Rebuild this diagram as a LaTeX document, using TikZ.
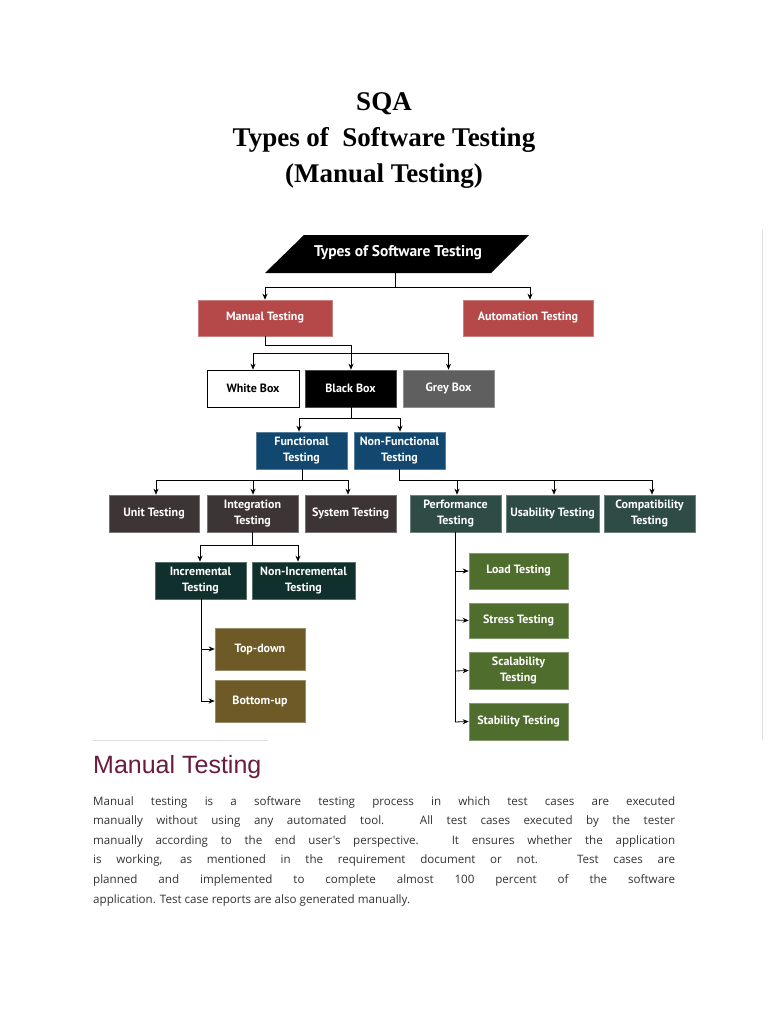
\documentclass[tikz,border=0pt]{standalone}
\usepackage{fontspec}
\setmainfont{Liberation Serif}
\newfontfamily\boxfont{PT Sans}
\newfontfamily\bodyfont{Open Sans}
\usetikzlibrary{arrows.meta,shapes.geometric}
\definecolor{cred}{HTML}{B5494A}
\definecolor{cgrey}{HTML}{5F5F5F}
\definecolor{cblue}{HTML}{12486F}
\definecolor{cbrown}{HTML}{3D3435}
\definecolor{cteal}{HTML}{2E4B45}
\definecolor{cdark}{HTML}{0F302C}
\definecolor{colive}{HTML}{6E5A26}
\definecolor{cgreen}{HTML}{4F6E2E}
\definecolor{cmaroon}{HTML}{6A1B40}
\tikzset{
 bx/.style={rectangle,inner sep=1pt,align=center,text=white,font=\boxfont\bfseries\fontsize{12}{15.5}\selectfont,draw=#1!70!white,fill=#1,line width=0.6pt},
 arr/.style={-{Stealth[length=6pt,width=5pt]},line width=0.8pt},
 ln/.style={line width=0.8pt}
}
\newcommand{\mybox}[7]{\node[bx=#6,minimum width={#4-#2},minimum height={#5-#3}] (#1) at ({(#2+#4)/2},{(#3+#5)/2}) {#7};}
\begin{document}
\begin{tikzpicture}[x=1pt,y=-1pt]
\useasboundingbox (0,0) rectangle (768,1024);
\fill[white] (0,0) rectangle (768,1024);
\node[font=\fontsize{27}{36}\selectfont\bfseries,align=center] (title) at (384,141) {SQA\\Types of\ \ Software Testing\\(Manual Testing)};
% top parallelogram
\fill (304,235) -- (529,235) -- (491,273) -- (265,273) -- cycle;
\node[text=white,font=\boxfont\bfseries\fontsize{15.5}{17}\selectfont] (top) at (398,253) {Types of Software Testing};
\coordinate (topb) at (395,273);
\mybox{man}{198}{300}{332}{336}{cred}{Manual Testing}
\mybox{aut}{463}{300}{593}{336}{cred}{Automation Testing}
\node[bx=white,draw=black,text=black,minimum width=92,minimum height=37] (wb) at (253,388.5) {White Box};
\mybox{bb}{305}{370}{396}{407}{black}{Black Box}
\mybox{gb}{403}{370}{494}{407}{cgrey}{Grey Box}
\mybox{fun}{256}{432}{347}{469}{cblue}{Functional\\Testing}
\mybox{nfun}{354}{432}{445}{469}{cblue}{Non-Functional\\Testing}
\mybox{unit}{109}{495}{199}{532}{cbrown}{Unit Testing}
\mybox{integ}{207}{495}{298}{532}{cbrown}{Integration\\Testing}
\mybox{sys}{305}{495}{396}{532}{cbrown}{System Testing}
\mybox{perf}{410}{495}{501}{532}{cteal}{Performance\\Testing}
\mybox{usa}{506}{495}{599}{532}{cteal}{Usability Testing}
\mybox{comp}{604}{495}{695}{532}{cteal}{Compatibility\\Testing}
\mybox{inc}{155}{562}{246}{599}{cdark}{Incremental\\Testing}
\mybox{ninc}{252}{562}{355}{599}{cdark}{Non-Incremental\\Testing}
\mybox{td}{215}{628}{305}{670}{colive}{Top-down}
\mybox{bu}{215}{680}{305}{722}{colive}{Bottom-up}
\mybox{load}{469}{553}{568}{589}{cgreen}{Load Testing}
\mybox{stress}{469}{603}{568}{638}{cgreen}{Stress Testing}
\mybox{scal}{469}{652}{568}{689}{cgreen}{Scalability\\Testing}
\mybox{stab}{469}{703}{568}{740}{cgreen}{Stability Testing}
% connectors
\draw[ln] (topb) -- (395,287);
\draw[arr] (395,287) -| (man.north -| 265,0);
\draw[arr] (395,287) -| (aut.north -| 530,0);
\draw[ln] (man.south -| 265,0) |- (351,345) -- (351,353);
\draw[arr] (351,353) -| (wb.north);
\draw[arr] (351,353) -- (bb.north -| 351,0);
\draw[arr] (351,353) -| (gb.north);
\draw[ln] (bb.south -| 351,0) -- (351,418);
\draw[arr] (351,418) -| (fun.north -| 299,0);
\draw[arr] (351,418) -| (nfun.north -| 400,0);
\draw[ln] (fun.south -| 302,0) -- (302,480);
\draw[arr] (302,480) -| (unit.north -| 156,0);
\draw[arr] (302,480) -| (integ.north -| 253,0);
\draw[arr] (302,480) -| (sys.north -| 348,0);
\draw[ln] (nfun.south -| 399,0) -- (399,480);
\draw[arr] (399,480) -| (perf.north -| 457,0);
\draw[arr] (399,480) -| (usa.north -| 554,0);
\draw[arr] (399,480) -| (comp.north -| 652,0);
\draw[ln] (integ.south -| 252,0) -- (252,545);
\draw[arr] (252,545) -| (inc.north -| 200,0);
\draw[arr] (252,545) -| (ninc.north -| 298,0);
\draw[ln] (inc.south -| 201,0) -- (201,701);
\draw[arr] (201,649) -- (td.west);
\draw[arr] (201,701) -- (bu.west);
\draw[ln] (perf.south -| 455,0) -- (455,722);
\draw[arr] (455,571) -- (load.west);
\draw[arr] (455,620) -- (stress.west);
\draw[arr] (455,671) -- (scal.west);
\draw[arr] (455,722) -- (stab.west);
\draw[black!12,line width=0.6pt] (762,230) -- (762,740);
\draw[black!12,line width=0.6pt] (93,740) -- (268,740);
% text
\node[anchor=base west,inner sep=0pt,text=cmaroon,font=\fontspec{Liberation Sans}\fontsize{25}{28}\selectfont] (head) at (93,773) {Manual Testing};
\node[anchor=north west,inner sep=0pt,text width=582pt,align=justify,text=black!80,font=\bodyfont\fontsize{11.6}{19.6}\selectfont] (para) at (93,796) {Manual testing is a software testing process in which test cases are executed\linebreak manually without using any automated tool. All test cases executed by the tester\linebreak manually according to the end user's perspective. It ensures whether the application\linebreak is working, as mentioned in the requirement document or not. Test cases are\linebreak planned and implemented to complete almost 100 percent of the software\linebreak application. Test case reports are also generated manually.};
\end{tikzpicture}
\end{document}
